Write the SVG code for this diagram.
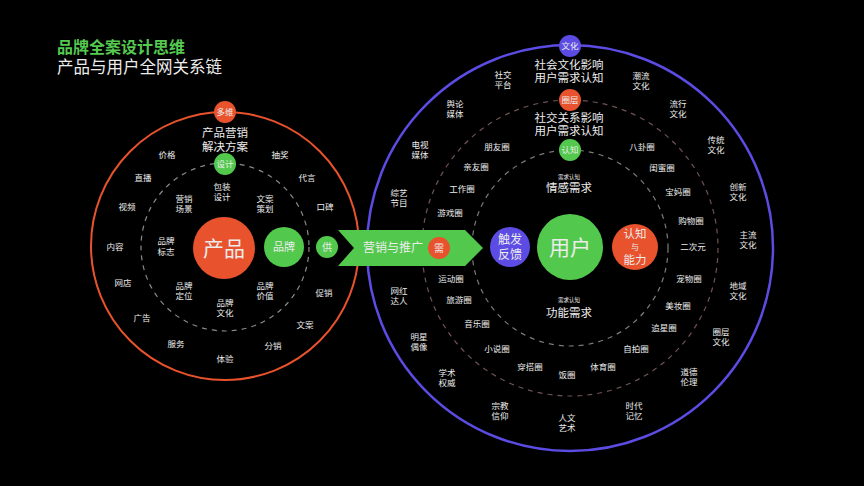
<svg xmlns="http://www.w3.org/2000/svg" width="864" height="486" viewBox="0 0 864 486">
<style>
text{font-family:"Liberation Sans","Noto Sans CJK SC",sans-serif;fill:#ececec;text-anchor:middle;dominant-baseline:central}
.s{font-size:8.5px}
.m{font-size:11.5px}
.xs{font-size:5.5px}
.red{fill:#E8522D}
.grn{fill:#52C94D}
.pur{fill:#5C4CE3}
.ring{fill:none}
</style>
<rect width="864" height="486" fill="#000"/>
<g id="title">
<text x="57" y="47" style="font-size:16px;text-anchor:start"><tspan style="font-weight:bold;fill:#56C951">品牌全案设计思维</tspan><tspan x="57" dy="20" style="font-size:16.5px">产品与用户全网关系链</tspan></text>
</g>
<g id="left-rings">
<circle class="ring" cx="225" cy="246" r="134" stroke="#E8522D" stroke-width="2"/>
<circle class="ring" cx="225" cy="247" r="84" stroke="#8a8a8a" stroke-width="1.2" stroke-dasharray="5 5"/>
</g>
<g id="right-rings">
<circle class="ring" cx="570" cy="248" r="203" stroke="#5C4CE3" stroke-width="2.5"/>
<circle class="ring" cx="570" cy="248" r="148" stroke="#6e5353" stroke-width="1.2" stroke-dasharray="5 5"/>
<circle class="ring" cx="570" cy="248" r="98" stroke="#7a7a7a" stroke-width="1.2" stroke-dasharray="5 5"/>
</g>
<g id="connectors">
<polygon id="arrow" points="338,230 465,230 483,248 465,266 338,266 354,248" fill="#52C94D"/>
<text x="393" y="248" style="font-size:12px">营销与推广</text>
</g>
<g id="node-duowei"><circle class="red" cx="225" cy="112" r="11"/><text x="225" y="112" class="s">多维</text></g>
<g id="node-sheji"><circle class="grn" cx="225" cy="164" r="11"/><text x="225" y="164" class="s">设计</text></g>
<g id="node-chanpin"><circle class="red" cx="224" cy="248" r="31"/><text x="224" y="248" style="font-size:21px">产品</text></g>
<g id="node-pinpai"><circle class="grn" cx="284" cy="247" r="20"/><text x="284" y="247" style="font-size:11px">品牌</text></g>
<g id="node-gong"><circle class="grn" cx="327" cy="247" r="11"/><text x="327" y="247" style="font-size:10px">供</text></g>
<g id="node-xu"><circle class="red" cx="439" cy="248" r="11"/><text x="439" y="248" style="font-size:10px">需</text></g>
<g id="node-wenhua"><circle class="pur" cx="570" cy="46" r="11"/><text x="570" y="46" class="s">文化</text></g>
<g id="node-quanceng"><circle class="red" cx="570" cy="100" r="11"/><text x="570" y="100" class="s">圈层</text></g>
<g id="node-renzhi"><circle class="grn" cx="570" cy="150" r="11"/><text x="570" y="150" class="s">认知</text></g>
<g id="node-yonghu"><circle class="grn" cx="570" cy="247" r="33"/><text x="570" y="247" style="font-size:21px">用户</text></g>
<g id="node-chufa"><circle class="pur" cx="510" cy="247" r="20"/><text x="510" y="240" style="font-size:12px">触发<tspan x="510" dy="15">反馈</tspan></text></g>
<g id="node-nengli"><circle class="red" cx="635" cy="247" r="23"/><text x="635" y="234" style="font-size:11.5px">认知<tspan x="635" dy="13" style="font-size:8px">与</tspan><tspan x="635" dy="13">能力</tspan></text></g>
<g id="left-labels">
<text x="225" y="133" class="m">产品营销<tspan x="225" dy="14">解决方案</tspan></text>
<text x="167" y="155" class="s">价格</text>
<text x="280" y="155" class="s">抽奖</text>
<text x="143" y="178" class="s">直播</text>
<text x="307" y="178" class="s">代言</text>
<text x="127" y="207" class="s">视频</text>
<text x="325" y="207" class="s">口碑</text>
<text x="115" y="247" class="s">内容</text>
<text x="222" y="187" class="s">包装<tspan x="222" dy="10">设计</tspan></text>
<text x="184" y="199" class="s">营销<tspan x="184" dy="10">场景</tspan></text>
<text x="265" y="199" class="s">文案<tspan x="265" dy="10">策划</tspan></text>
<text x="166" y="241" class="s">品牌<tspan x="166" dy="11">标志</tspan></text>
<text x="123" y="283" class="s">网店</text>
<text x="184" y="286" class="s">品牌<tspan x="184" dy="10">定位</tspan></text>
<text x="265" y="286" class="s">品牌<tspan x="265" dy="10">价值</tspan></text>
<text x="225" y="303" class="s">品牌<tspan x="225" dy="10">文化</tspan></text>
<text x="324" y="293" class="s">促销</text>
<text x="142" y="318" class="s">广告</text>
<text x="305" y="325" class="s">文案</text>
<text x="176" y="344" class="s">服务</text>
<text x="273" y="346" class="s">分销</text>
<text x="225" y="359" class="s">体验</text>
</g>
<g id="right-labels">
<text x="569" y="65" class="m">社会文化影响<tspan x="569" dy="13">用户需求认知</tspan></text>
<text x="569" y="118" class="m">社交关系影响<tspan x="569" dy="13">用户需求认知</tspan></text>
<text x="569" y="177" class="xs">需求认知<tspan x="569" dy="11" style="font-size:11.5px">情感需求</tspan></text>
<text x="569" y="300" class="xs">需求认知<tspan x="569" dy="13" style="font-size:11.5px">功能需求</tspan></text>
<text x="503" y="75" class="s">社交<tspan x="503" dy="10">平台</tspan></text>
<text x="455" y="104" class="s">舆论<tspan x="455" dy="10">媒体</tspan></text>
<text x="420" y="145" class="s">电视<tspan x="420" dy="10">媒体</tspan></text>
<text x="399" y="193" class="s">综艺<tspan x="399" dy="10">节目</tspan></text>
<text x="399" y="291" class="s">网红<tspan x="399" dy="10">达人</tspan></text>
<text x="419" y="337" class="s">明星<tspan x="419" dy="10">偶像</tspan></text>
<text x="447" y="373" class="s">学术<tspan x="447" dy="10">权威</tspan></text>
<text x="500" y="406" class="s">宗教<tspan x="500" dy="10">信仰</tspan></text>
<text x="567" y="418" class="s">人文<tspan x="567" dy="10">艺术</tspan></text>
<text x="634" y="406" class="s">时代<tspan x="634" dy="10">记忆</tspan></text>
<text x="689" y="372" class="s">道德<tspan x="689" dy="10">伦理</tspan></text>
<text x="721" y="332" class="s">圈层<tspan x="721" dy="10">文化</tspan></text>
<text x="738" y="286" class="s">地域<tspan x="738" dy="10">文化</tspan></text>
<text x="748" y="235" class="s">主流<tspan x="748" dy="10">文化</tspan></text>
<text x="738" y="187" class="s">创新<tspan x="738" dy="10">文化</tspan></text>
<text x="716" y="140" class="s">传统<tspan x="716" dy="10">文化</tspan></text>
<text x="678" y="104" class="s">流行<tspan x="678" dy="10">文化</tspan></text>
<text x="641" y="76" class="s">潮流<tspan x="641" dy="10">文化</tspan></text>
<text x="497" y="147" class="s">朋友圈</text>
<text x="476" y="167" class="s">亲友圈</text>
<text x="462" y="189" class="s">工作圈</text>
<text x="450" y="213" class="s">游戏圈</text>
<text x="451" y="279" class="s">运动圈</text>
<text x="459" y="300" class="s">旅游圈</text>
<text x="477" y="324" class="s">音乐圈</text>
<text x="497" y="349" class="s">小说圈</text>
<text x="530" y="367" class="s">穿搭圈</text>
<text x="567" y="375" class="s">饭圈</text>
<text x="603" y="367" class="s">体育圈</text>
<text x="636" y="349" class="s">自拍圈</text>
<text x="664" y="328" class="s">追星圈</text>
<text x="678" y="306" class="s">美妆圈</text>
<text x="689" y="279" class="s">宠物圈</text>
<text x="693" y="247" class="s">二次元</text>
<text x="691" y="221" class="s">购物圈</text>
<text x="678" y="192" class="s">宝妈圈</text>
<text x="662" y="168" class="s">闺蜜圈</text>
<text x="642" y="147" class="s">八卦圈</text>
</g>
</svg>
